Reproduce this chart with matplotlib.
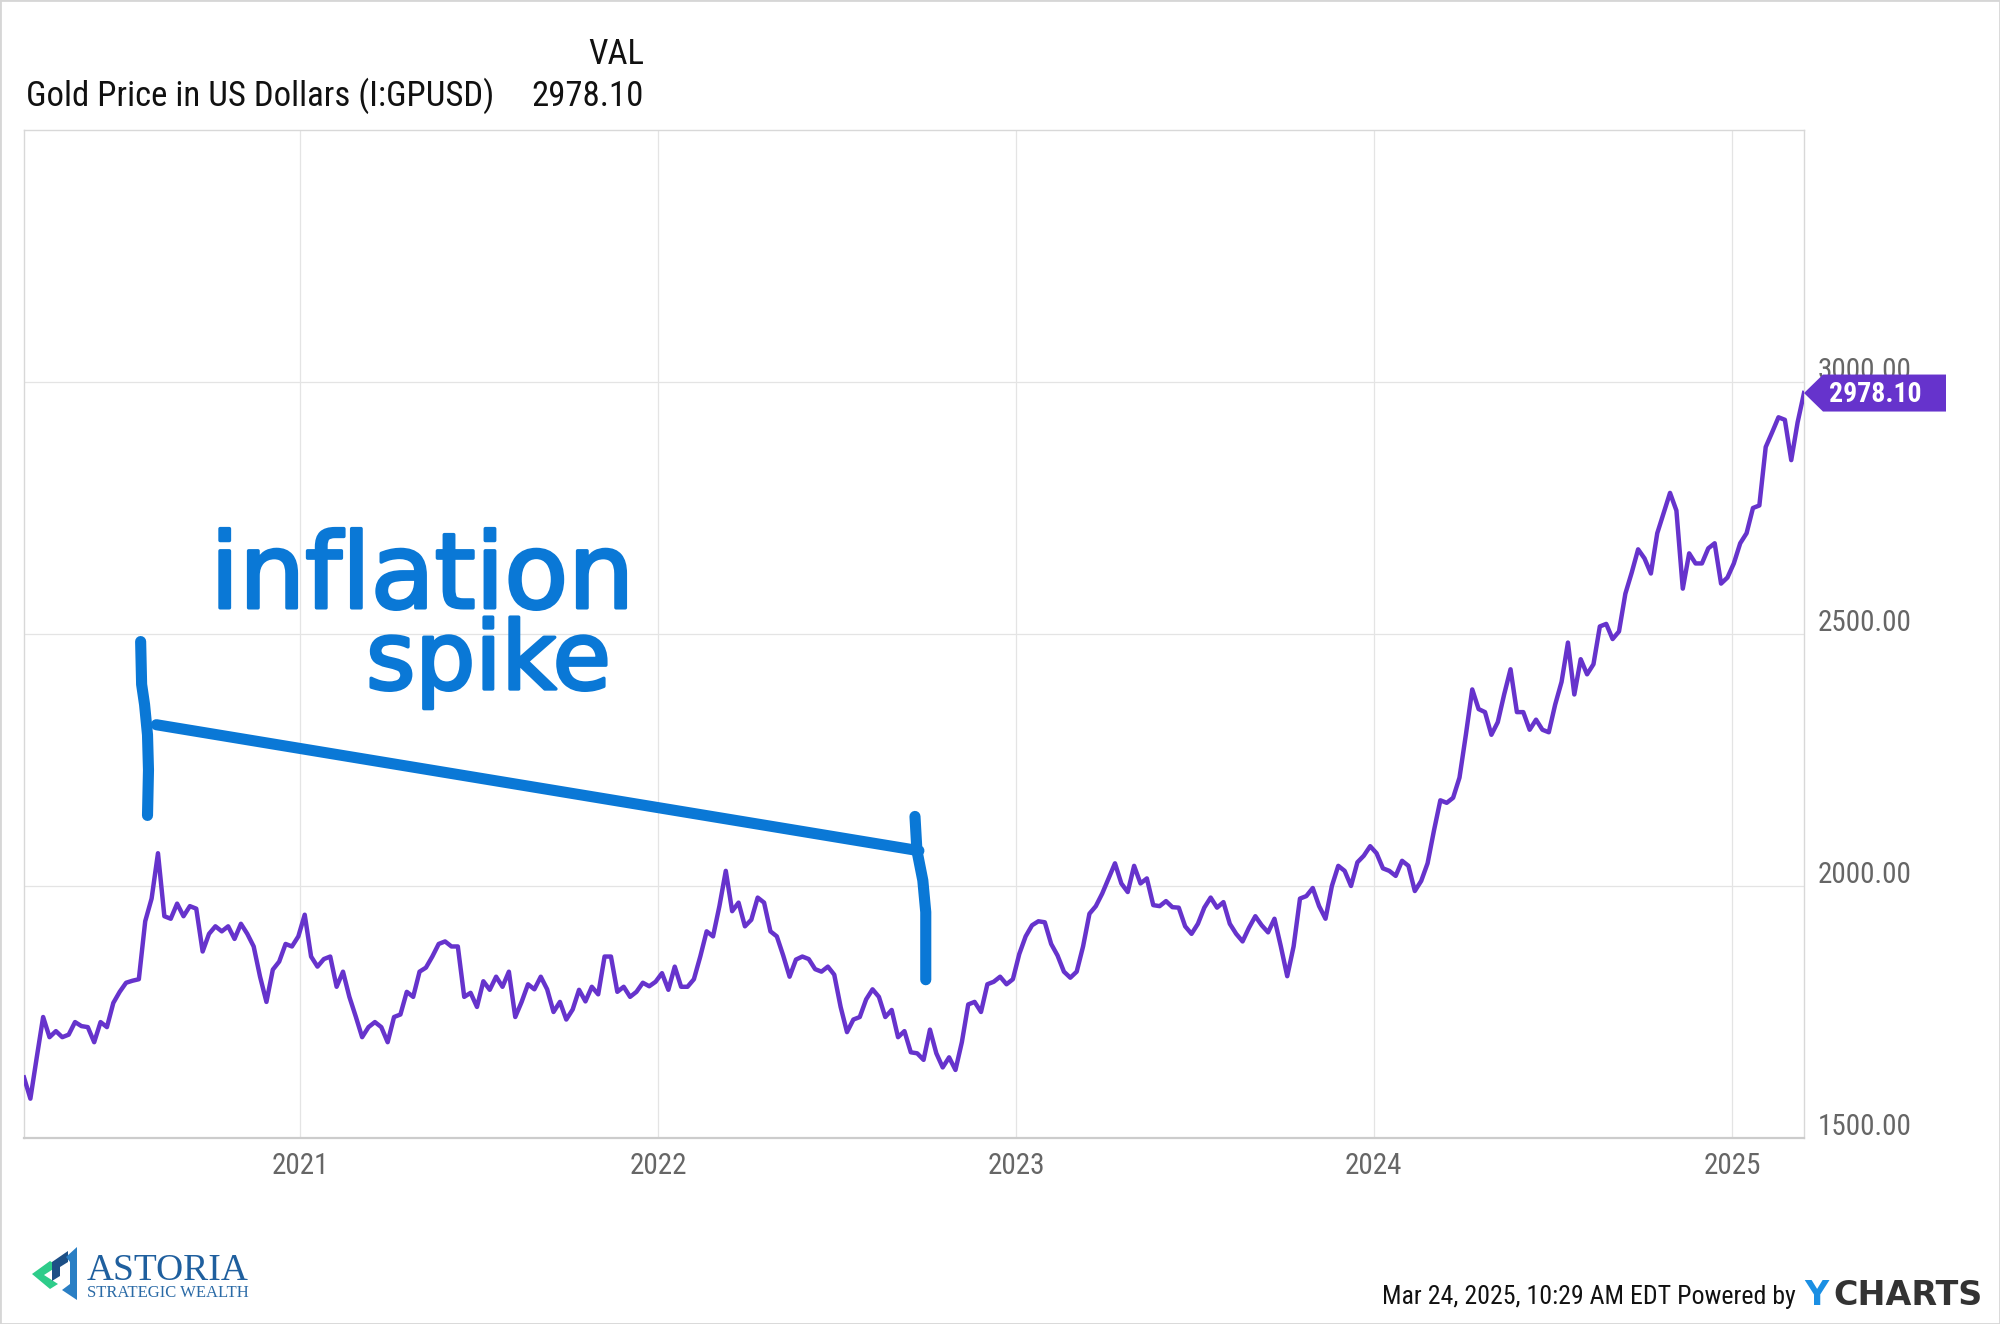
"""Gold price (YCharts style) with hand-drawn 'inflation spike' mark"""
import pandas as pd
import matplotlib
matplotlib.use("Agg")
import matplotlib.pyplot as plt
import matplotlib.transforms as mtransforms
import matplotlib.patheffects as pe
from matplotlib.patches import Polygon, Rectangle

plt.rcParams['font.family'] = ['Roboto Condensed', 'Roboto', 'DejaVu Sans']

# ---- data ----
series_name = "Gold Price in US Dollars (I:GPUSD)"
last_value = 2978.10
start_date = "2020-03-25"
end_date = "2025-03-15"

# roughly weekly closes
prices = [
    1620, 1578, 1660, 1740, 1700, 1712, 1700, 1705, 1730, 1722, 1720, 1690, 1730, 1720, 1768, 1790, 1808, 1812, 1815, 1930,
    1975, 2065, 1940, 1935, 1965, 1940, 1960, 1955, 1870, 1905, 1920, 1910, 1920, 1895, 1925, 1905, 1880, 1820, 1770, 1834,
    1850, 1885, 1880, 1900, 1943, 1860, 1840, 1855, 1860, 1800, 1830, 1780, 1741, 1700, 1720, 1730, 1720, 1690, 1740, 1745,
    1790, 1780, 1830, 1838, 1860, 1885, 1890, 1880, 1880, 1780, 1788, 1760, 1811, 1794, 1820, 1800, 1830, 1740, 1770, 1805,
    1795, 1820, 1795, 1750, 1770, 1735, 1755, 1794, 1771, 1800, 1785, 1860, 1860, 1790, 1800, 1780, 1790, 1808, 1801, 1810,
    1827, 1794, 1840, 1800, 1800, 1815, 1860, 1910, 1900, 1960, 2030, 1950, 1967, 1920, 1933, 1977, 1967, 1910, 1900, 1862,
    1820, 1854, 1860, 1855, 1835, 1830, 1840, 1824, 1760, 1710, 1735, 1740, 1775, 1795, 1780, 1740, 1754, 1700, 1712, 1670,
    1668, 1655, 1715, 1668, 1640, 1660, 1635, 1690, 1765, 1770, 1750, 1805, 1810, 1820, 1805, 1815, 1865, 1900, 1922, 1930,
    1928, 1885, 1862, 1830, 1818, 1830, 1880, 1945, 1960, 1985, 2015, 2045, 2005, 1988, 2040, 2005, 2015, 1962, 1960, 1970,
    1958, 1957, 1920, 1905, 1925, 1957, 1977, 1957, 1968, 1925, 1905, 1890, 1917, 1940, 1922, 1908, 1935, 1880, 1821, 1880,
    1975, 1980, 1996, 1960, 1935, 2000, 2040, 2030, 2000, 2047, 2060, 2079, 2065, 2035, 2030, 2020, 2050, 2040, 1990, 2010,
    2045, 2110, 2170, 2165, 2175, 2215, 2300, 2390, 2351, 2345, 2300, 2325, 2380, 2430, 2345, 2345, 2310, 2330, 2310, 2305,
    2360, 2405, 2483, 2380, 2450, 2420, 2440, 2515, 2520, 2490, 2505, 2580, 2622, 2668, 2650, 2620, 2700, 2740, 2780, 2745,
    2590, 2660, 2640, 2640, 2670, 2680, 2600, 2612, 2640, 2680, 2700, 2750, 2755, 2871, 2900, 2930, 2925, 2845, 2920,
    last_value,
]

year_ticks = ["2021-01-01", "2022-01-01", "2023-01-01", "2024-01-01", "2025-01-01"]
year_labels = ["2021", "2022", "2023", "2024", "2025"]
price_ticks = [1500, 2000, 2500, 3000]

# hand-drawn bracket (dates, price level)
left_mark_dates = ["2020-07-22", "2020-07-23", "2020-07-26", "2020-07-29", "2020-07-30", "2020-07-29"]
left_mark_vals = [2485, 2400, 2360, 2300, 2230, 2140]
span_dates = ["2020-08-07", "2022-09-24"]
span_vals = [2320, 2070]
right_mark_dates = ["2022-09-20", "2022-09-22", "2022-09-28", "2022-10-01", "2022-10-01"]
right_mark_vals = [2138, 2070, 2011, 1948, 1814]
note_lines = ["inflation", "spike"]
note_dates = ["2020-10-01", "2021-03-09"]
note_vals = [2552, 2391]

# ---- colours ----
PURPLE = "#6633cc"
PEN = "#0a78d6"
GRID = "#e4e4e4"
TICK = "#666666"

dates = pd.date_range(start_date, end_date, periods=len(prices))

fig = plt.figure(figsize=(20, 13.24), dpi=100)
ax = fig.add_axes([0.012, 0.1405, 0.89, 0.7613])

ax.plot(dates, prices, color=PURPLE, lw=3.2, solid_joinstyle="round", zorder=3)
ax.set_xlim(dates[0], dates[-1])
ax.set_ylim(1500, 3500)

ax.set_xticks(pd.to_datetime(year_ticks))
ax.set_xticklabels(year_labels, fontsize=21, color=TICK)
ax.set_yticks(price_ticks)
ax.set_yticklabels([])
ax.tick_params(axis="x", length=0, pad=10)
ax.tick_params(axis="y", length=0)
ax.grid(True, color=GRID, lw=0.9, zorder=0)
for side in ["left", "top", "right"]:
    ax.spines[side].set_color("#d8d8d8")
    ax.spines[side].set_linewidth(1.0)
ax.spines["bottom"].set_color("#cccccc")
ax.spines["bottom"].set_linewidth(1.6)

# right side value labels sit just above their gridline
for v in price_ticks:
    ax.annotate(f"{v:.2f}", xy=(1, v), xycoords=("axes fraction", "data"),
                xytext=(14, 3), textcoords="offset pixels", ha="left", va="baseline",
                fontsize=21, color=TICK, annotation_clip=False, zorder=4)

# last value badge
anchor = mtransforms.ScaledTranslation(matplotlib.dates.date2num(dates[-1]), last_value, ax.transData)
badge_tr = fig.dpi_scale_trans + anchor
badge = Polygon([(0, 0), (0.19, 0.185), (1.42, 0.185), (1.42, -0.185), (0.19, -0.185)],
                closed=True, facecolor=PURPLE, edgecolor="none", transform=badge_tr,
                clip_on=False, zorder=6)
ax.add_patch(badge)
ax.text(0.71, -0.01, f"{last_value:.2f}", transform=badge_tr, ha="center", va="center",
        fontsize=20, fontweight="bold", color="white", zorder=7, clip_on=False)

# hand-drawn annotation
pen = dict(color=PEN, lw=8, solid_capstyle="round", solid_joinstyle="round", zorder=5)
ax.plot(pd.to_datetime(left_mark_dates), left_mark_vals, **pen)
ax.plot(pd.to_datetime(span_dates), span_vals, **pen)
ax.plot(pd.to_datetime(right_mark_dates), right_mark_vals, **pen)
for word, d, v in zip(note_lines, note_dates, note_vals):
    ax.text(pd.Timestamp(d), v, word, fontsize=75 if word == "inflation" else 68, color=PEN,
            family="DejaVu Sans", ha="left", va="baseline", zorder=5,
            path_effects=[pe.withStroke(linewidth=2.5, foreground=PEN)])

# header
fig.text(0.322, 1 - 64 / 1324, "VAL", ha="right", va="baseline", fontsize=25, color="#111111")
fig.text(0.013, 1 - 106 / 1324, series_name, ha="left", va="baseline", fontsize=25, color="#111111")
fig.text(0.322, 1 - 106 / 1324, f"{last_value:.2f}", ha="right", va="baseline", fontsize=25, color="#111111")

# footer
fig.text(0.898, 1 - 1304 / 1324, "Mar 24, 2025, 10:29 AM EDT Powered by", ha="right", va="baseline",
         fontsize=18.6, color="#111111")
fig.text(0.902, 1 - 1305 / 1324, "Y", ha="left", va="baseline", fontsize=24, fontweight="bold",
         color="#1b8fe3", family="DejaVu Sans")
fig.text(0.9165, 1 - 1305 / 1324, "CHARTS", ha="left", va="baseline", fontsize=24, fontweight="bold",
         color="#333333", family="DejaVu Sans")

# Astoria logo (pixel coordinates, top-left origin)
px = mtransforms.Affine2D().scale(1, -1).translate(0, 1324)
logo_shapes = [
    ([(32, 1274), (50, 1261), (58, 1266), (44, 1275), (58, 1284), (50, 1289)], "#2ecc8a"),
    ([(52, 1262), (68, 1251), (68, 1262), (60, 1267), (60, 1276), (52, 1281)], "#1d4f86"),
    ([(77, 1247), (77, 1300), (62, 1290), (70, 1284), (70, 1262), (66, 1257)], "#2a7fc4"),
]
for pts, col in logo_shapes:
    fig.patches.append(Polygon(pts, closed=True, facecolor=col, edgecolor="none", transform=px))
fig.text(87 / 2000, 1 - 1280 / 1324, "ASTORIA", ha="left", va="baseline", fontsize=27,
         color="#1f5f9e", family="Liberation Serif")
fig.text(87 / 2000, 1 - 1297 / 1324, "STRATEGIC WEALTH", ha="left", va="baseline", fontsize=12,
         color="#2a6aa6", family="Liberation Serif")

# outer frame
fig.patches.append(Rectangle((0, 0), 1, 1, transform=fig.transFigure, fill=False,
                             edgecolor="#d6d6d6", lw=2))

fig.savefig("out.png", dpi=100)
